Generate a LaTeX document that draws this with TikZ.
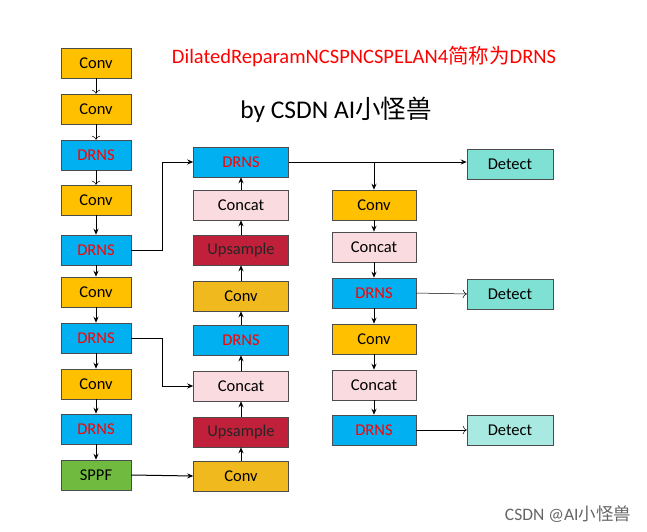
\documentclass[tikz,border=0pt]{standalone}
\usepackage{fontspec}
\setmainfont{Carlito}
\newfontfamily\cjk{Noto Sans CJK SC}
\usetikzlibrary{arrows.meta}
\definecolor{cv}{HTML}{FFC000}
\definecolor{cv2}{HTML}{F0BA1E}
\definecolor{dr}{HTML}{00B0F0}
\definecolor{cc}{HTML}{FADBE0}
\definecolor{up}{HTML}{C0203A}
\definecolor{sp}{HTML}{70BB3F}
\definecolor{dt}{HTML}{7FE0D4}
\definecolor{dt2}{HTML}{A8EAE2}
\begin{document}
\begin{tikzpicture}[x=1pt,y=-1pt,
 b/.style={draw=black!70,line width=0.5pt,minimum height=30pt,inner sep=0pt,font=\fontsize{16.5}{17}\selectfont},
 L/.style={b,minimum width=70pt},
 M/.style={b,minimum width=95pt},
 R/.style={b,minimum width=84pt},
 D/.style={b,minimum width=86pt,fill=dt},
 conv/.style={fill=cv},
 drns/.style={fill=dr,text=red},
 cat/.style={fill=cc},
 ups/.style={fill=up,text=black!85},
 a/.style={-{Stealth[length=6pt,width=5pt]},line width=1pt},
 t/.style={-{To[length=4pt]},line width=0.5pt}]
\useasboundingbox (0,0) rectangle (647,532);
% left
\node[L,conv] (l1) at (96,63) {Conv};
\node[L,conv] (l2) at (96,109) {Conv};
\node[L,drns] (l3) at (96,155) {DRNS};
\node[L,conv] (l4) at (96,200) {Conv};
\node[L,drns] (l5) at (96,250) {DRNS};
\node[L,conv] (l6) at (96,292) {Conv};
\node[L,drns] (l7) at (96,338) {DRNS};
\node[L,conv] (l8) at (96,384) {Conv};
\node[L,drns] (l9) at (96,429) {DRNS};
\node[L,fill=sp] (l10) at (96,475) {SPPF};
\draw[t] (l1)--(l2); \draw[t] (l2)--(l3); \draw[t] (l3)--(l4);
\draw[a] (l4)--(l5); \draw[a] (l5)--(l6); \draw[a] (l6)--(l7);
\draw[a] (l7)--(l8); \draw[a] (l8)--(l9); \draw[a] (l9)--(l10);
% middle
\node[M,drns] (m1) at (241,162) {DRNS};
\node[M,cat] (m2) at (241,205) {Concat};
\node[M,ups] (m3) at (241,250) {Upsample};
\node[M,fill=cv2] (m4) at (241,296) {Conv};
\node[M,drns] (m5) at (241,340) {DRNS};
\node[M,cat] (m6) at (241,386) {Concat};
\node[M,ups] (m7) at (241,432) {Upsample};
\node[M,fill=cv2] (m8) at (241,476) {Conv};
\draw[a] (m8)--(m7); \draw[a] (m7)--(m6); \draw[a] (m6)--(m5);
\draw[a] (m5)--(m4); \draw[a] (m4)--(m3); \draw[a] (m3)--(m2); \draw[a] (m2)--(m1);
\draw[a] (l5.east) -- (162,250) |- (m1.west);
\draw[a] (l7.east) -- (162,338) |- (m6.west);
\draw[a] (l10.east) -- (m8.west);
% right
\node[R,conv] (r1) at (374,205) {Conv};
\node[R,cat] (r2) at (374,247) {Concat};
\node[R,drns] (r3) at (374,293) {DRNS};
\node[R,conv] (r4) at (374,339) {Conv};
\node[R,cat] (r5) at (374,385) {Concat};
\node[R,drns] (r6) at (374,430) {DRNS};
\draw[a] (r1)--(r2); \draw[a] (r2)--(r3); \draw[a] (r3)--(r4);
\draw[a] (r4)--(r5); \draw[a] (r5)--(r6);
\node[D] (d1) at (510,164) {Detect};
\node[D] (d2) at (510,294) {Detect};
\node[D,fill=dt2] (d3) at (510,430) {Detect};
\coordinate (j) at (374,162);
\draw[a] (m1.east) -- (d1.west |- m1.east);
\draw[a] (j) -- (r1.north);
\draw[t] (r3.east) -- (d2.west);
\draw[t] (r6.east) -- (d3.west);
% texts
\node[text=red,font=\fontsize{20.5}{22}\selectfont] (title) at (364,57) {DilatedReparamNCSPNCSPELAN4{\cjk 简称为}DRNS};
\node[font=\fontsize{25.5}{27}\selectfont] (by) at (336,110) {by CSDN AI{\cjk 小怪兽}};
\node[text=black!60,font=\fontsize{17.5}{18}\selectfont] (wm) at (568,514) {CSDN @AI{\cjk 小怪兽}};
\end{tikzpicture}
\end{document}
